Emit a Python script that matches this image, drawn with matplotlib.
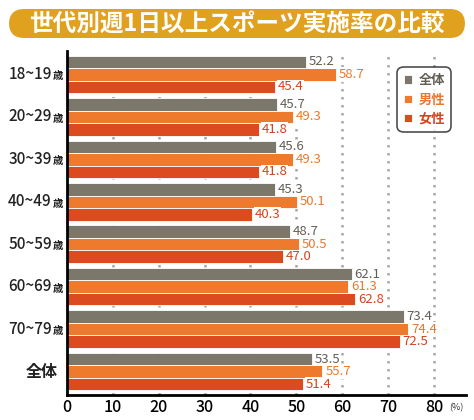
import matplotlib
matplotlib.use("Agg")
import matplotlib.pyplot as plt
from matplotlib.patches import FancyBboxPatch
import numpy as np

plt.rcParams['font.family'] = ['Noto Sans CJK JP', 'DejaVu Sans']

title = "世代別週1日以上スポーツ実施率の比較"
ages = ["18~19", "20~29", "30~39", "40~49", "50~59", "60~69", "70~79", "全体"]
age_suffix = ["歳", "歳", "歳", "歳", "歳", "歳", "歳", ""]
series_names = ["全体", "男性", "女性"]
all_vals = [52.2, 45.7, 45.6, 45.3, 48.7, 62.1, 73.4, 53.5]
male_vals = [58.7, 49.3, 49.3, 50.1, 50.5, 61.3, 74.4, 55.7]
female_vals = [45.4, 41.8, 41.8, 40.3, 47.0, 62.8, 72.5, 51.4]
xticks = [0, 10, 20, 30, 40, 50, 60, 70, 80]

bar_colors = ["#7C776B", "#EE7A2E", "#DC4A20"]
text_colors = ["#625E55", "#E8782E", "#D4421E"]

fig = plt.figure(figsize=(4.74, 4.20), dpi=100)
W, H = 474, 420
ax = fig.add_axes([67 / W, 1 - 395 / H, (466 - 67) / W, (395 - 51) / H])

# title banner
banner = FancyBboxPatch((9 / W, 1 - 38 / H), 456 / W, 29 / H,
                        boxstyle="round,pad=0,rounding_size=0.032",
                        transform=fig.transFigure, facecolor="#E0A21E",
                        edgecolor="none", mutation_aspect=W / H)
fig.patches.append(banner)
fig.text(0.5, 1 - 24 / H, title, ha="center", va="center", color="white",
         fontsize=17, fontweight="bold")

y = np.arange(len(ages))
h = 0.295
offsets = [-h, 0, h]
data = [all_vals, male_vals, female_vals]
for k in range(3):
    ax.barh(y + offsets[k], data[k], height=h, color=bar_colors[k],
            edgecolor="white", linewidth=0.6, zorder=2, label=series_names[k])
    for yi, v in zip(y, data[k]):
        ax.annotate(f"{v:.1f}", xy=(v, yi + offsets[k]), xytext=(2, 0),
                    textcoords="offset points", ha="left", va="center",
                    fontsize=9.5, color=text_colors[k], zorder=4,
                    bbox=dict(boxstyle="square,pad=0.05", fc="white", ec="none"))

ax.set_xlim(0, 87)
ax.set_ylim(len(ages) - 0.45, -0.55)
for gx in xticks[1:]:
    ax.axvline(gx, color="#A8A8A8", linestyle=(0, (1, 2.2)), linewidth=1.8, zorder=1)

ax.set_xticks(xticks)
ax.set_xticklabels([str(t) for t in xticks], fontsize=11.5, fontweight="medium")
ax.tick_params(axis="x", length=0, pad=3)
ax.set_yticks([])
for s in ["top", "right"]:
    ax.spines[s].set_visible(False)
ax.spines["left"].set_linewidth(2)
ax.spines["bottom"].set_linewidth(2)
ax.spines["left"].set_color("black")
ax.spines["bottom"].set_color("black")

# y labels with small 歳
for yi, (a, s) in enumerate(zip(ages, age_suffix)):
    if s:
        ax.annotate(s, xy=(0, yi), xycoords=("axes fraction", "data"),
                    xytext=(-3, -1.5), textcoords="offset points", ha="right",
                    va="center", fontsize=7.5, fontweight="bold", color="#222222")
        ax.annotate(a, xy=(0, yi), xycoords=("axes fraction", "data"),
                    xytext=(-11, 0), textcoords="offset points", ha="right",
                    va="center", fontsize=11, fontweight="medium", color="#222222")
    else:
        ax.annotate(a, xy=(0, yi), xycoords=("axes fraction", "data"),
                    xytext=(-7, 0), textcoords="offset points", ha="right",
                    va="center", fontsize=11.5, fontweight="bold", color="#222222")

fig.text(456 / W, 1 - 408 / H, "(%)", ha="center", va="center", fontsize=6.5,
         color="#333333")

leg = ax.legend(loc="upper right", bbox_to_anchor=(458 / W, 1 - 60 / H),
                bbox_transform=fig.transFigure, frameon=True, fontsize=9.5,
                handlelength=0.6, handleheight=0.6, handletextpad=0.5,
                borderpad=0.5, labelspacing=0.4, fancybox=True)
leg.get_frame().set_edgecolor("#222222")
leg.get_frame().set_linewidth(1.2)
leg.get_frame().set_boxstyle("round,pad=0,rounding_size=0.5")
for t, c in zip(leg.get_texts(), text_colors):
    t.set_color(c)
    t.set_fontweight("bold")
leg.set_zorder(5)

fig.savefig("out.png", dpi=100)
